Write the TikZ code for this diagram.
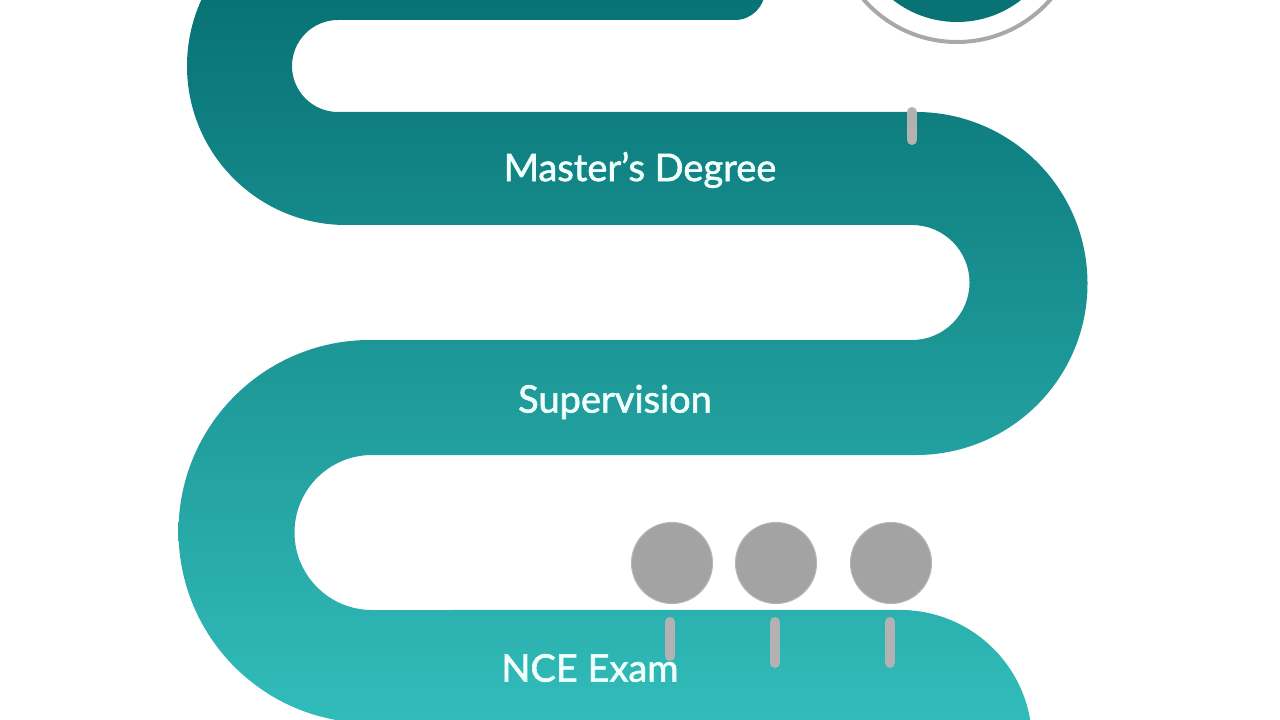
\documentclass[tikz,border=0pt]{standalone}
\usepackage{fontspec}
\setmainfont{Lato}
\newfontfamily\stepfont{Lato}[FakeBold=1.6,Ligatures=TeX]
\definecolor{serpenttop}{RGB}{3,105,108}
\definecolor{serpentbot}{RGB}{50,189,186}
\definecolor{discteal}{RGB}{8,114,116}
\definecolor{ringgray}{RGB}{168,168,168}
\definecolor{dotgray}{RGB}{163,163,163}
\definecolor{tickgray}{RGB}{178,178,178}
\definecolor{labelwhite}{RGB}{240,255,252}
\tikzset{
  steplabel/.style={text=labelwhite,font=\stepfont\fontsize{28.5}{34}\selectfont,inner sep=0pt},
  dotcircle/.style={circle,fill=dotgray,draw=dotgray!80!white,line width=0.8pt,inner sep=0pt,minimum size=60.75pt},
  tick/.style={draw=tickgray,line width=7.5pt,line cap=round}
}

\begin{document}
\begin{tikzpicture}[x=0.75pt,y=0.75pt,yscale=-1,xscale=1]
\useasboundingbox (0,0) rectangle (1280,720);
\clip (0,0) rectangle (1280,720);

%Shape: Serpent road [id:serpent]
\shade[top color=serpenttop,bottom color=serpentbot]
  (765,-93) -- (346,-93) arc[start angle=270,end angle=90,radius=159]
  -- (912,225) arc[start angle=-90,end angle=90,radius=57.5]
  -- (370,340) arc[start angle=270,end angle=90,radius=191.5]
  -- (370,730) -- (1031.5,730) arc[start angle=-5.2,end angle=-90,radius=132]
  -- (372,610) arc[start angle=90,end angle=270,radius=77.5]
  -- (916,455) arc[start angle=90,end angle=-90,radius=171.5]
  -- (338,112) arc[start angle=90,end angle=270,radius=46]
  -- (735,20) arc[start angle=90,end angle=0,radius=30] -- cycle ;

%Shape: Goal disc [id:goal]
\fill[discteal] (957,-82) circle[radius=104] ;
\draw[ringgray,line width=3pt] (957,-82) circle[radius=124] ;

%Shape: Milestone circles
\node[dotcircle] (coursework) at (672,563) {};
\node[dotcircle] (practicum) at (776,563) {};
\node[dotcircle] (internship) at (891,563) {};

%Shape: Ticks
\coordinate (topticka) at (912,112);
\coordinate (toptickb) at (912,140);
\coordinate (ticka1) at (670,622);
\coordinate (ticka2) at (670,656);
\coordinate (tickb1) at (775,622);
\coordinate (tickb2) at (775,663);
\coordinate (tickc1) at (890,622);
\coordinate (tickc2) at (890,663);
\draw[tick] (topticka) -- (toptickb) ;
\draw[tick] (ticka1) -- (ticka2) ;
\draw[tick] (tickb1) -- (tickb2) ;
\draw[tick] (tickc1) -- (tickc2) ;

% Text Node
\node[steplabel] (masters) at (640,170) {Master’s Degree};
% Text Node
\node[steplabel] (supervision) at (615,402) {Supervision};
% Text Node
\node[steplabel] (nce) at (590,668) {NCE Exam};

\end{tikzpicture}
\end{document}
